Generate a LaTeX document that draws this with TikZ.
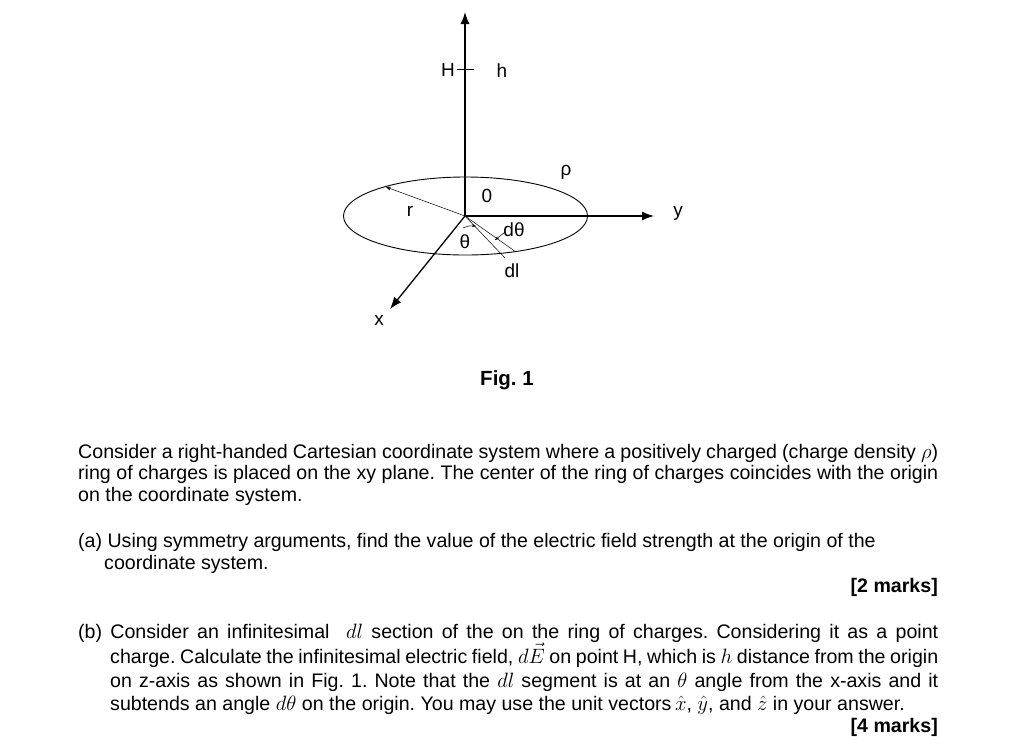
\documentclass[tikz,border=0pt]{standalone}
\usepackage{fontspec}
\setmainfont{Liberation Sans}
\usetikzlibrary{arrows.meta}
\newcommand{\jline}[1]{\makebox[860pt][s]{#1}}
\frenchspacing
\begin{document}
\begin{tikzpicture}[x=1pt,y=-1pt,
  lab/.style={inner sep=0pt,font=\fontsize{19}{21}\selectfont},
  txt/.style={inner sep=0pt,anchor=base west,font=\fontsize{19.6}{22}\selectfont},
  ax/.style={line width=1.3pt,-{Latex[length=12pt,width=9pt]}},
  thin/.style={line width=0.5pt}]
\useasboundingbox (0,0) rectangle (1024,753);
\coordinate (O) at (465,216);
\coordinate (Z) at (465,12);
\coordinate (Y) at (654,216);
\coordinate (X) at (390,309);
\draw[ax] (O) -- (Z);
\draw[ax] (O) -- (Y);
\draw[ax] (O) -- (X);
\draw[line width=0.9pt] (465.5,216) ellipse (122 and 39);
\coordinate (Ha) at (457,69); \coordinate (Hb) at (474,69);
\draw[thin] (Ha) -- (Hb);
\coordinate (R) at (386,187);
\draw[thin,-{Stealth[length=5pt,width=4pt]}] (O) -- (R);
\coordinate (L1) at (505,258); \coordinate (L2) at (516,252);
\draw[thin] (O) -- (L1); \draw[thin] (O) -- (L2);
\coordinate (dta) at (505,232); \coordinate (dtb) at (495,240);
\draw[thin,-{Stealth[length=4pt,width=3pt]}] (dta) -- (dtb);
\coordinate (tha) at (463,228); \coordinate (thb) at (476,226);
\draw[thin,-{Stealth[length=4pt,width=3pt]}] (tha) to[bend left=15] (thb);
\node[lab] (nH) at (448,70) {H};
\node[lab] (nh) at (502,71) {h};
\node[lab] (nrho) at (566,172) {ρ};
\node[lab] (n0) at (487,196) {0};
\node[lab] (nr) at (410,211) {r};
\node[lab] (ny) at (678,213) {y};
\node[lab] (ndt) at (514,230) {dθ};
\node[lab] (nth) at (465,242) {θ};
\node[lab] (ndl) at (512,271) {dl};
\node[lab] (nx) at (379,320) {x};
\node[lab,font=\bfseries\fontsize{20.5}{23}\selectfont] (fig) at (507,380) {Fig. 1};
\node[txt] (t1) at (78,458) {\jline{Consider a right-handed Cartesian coordinate system where a positively charged (charge density $\rho$)}};
\node[txt] (t2) at (78,479) {\jline{ring of charges is placed on the xy plane. The center of the ring of charges coincides with the origin}};
\node[txt] (t3) at (78,501) {on the coordinate system.};
\node[txt] (t4) at (78,547) {(a) Using symmetry arguments, find the value of the electric field strength at the origin of the};
\node[txt] (t5) at (104,569) {coordinate system.};
\node[txt,anchor=base east,font=\bfseries\fontsize{19.6}{22}\selectfont] (m1) at (938,592) {[2 marks]};
\node[txt] (t7) at (78,638) {\jline{(b) Consider an infinitesimal \ $dl$ section of the on the ring of charges. Considering it as a point}};
\node[txt] (t8) at (110,663) {\makebox[828pt][s]{charge. Calculate the infinitesimal electric field, $d\vec{E}$ on point H, which is $h$ distance from the origin}};
\node[txt] (t9) at (110,687) {\makebox[828pt][s]{on z-axis as shown in Fig. 1. Note that the $dl$ segment is at an $\theta$ angle from the x-axis and it}};
\node[txt] (t10) at (110,710) {subtends an angle $d\theta$ on the origin. You may use the unit vectors$\,\hat{x}$, $\hat{y}$, and $\hat{z}$ in your answer.};
\node[txt,anchor=base east,font=\bfseries\fontsize{19.6}{22}\selectfont] (m2) at (938,732) {[4 marks]};
\end{tikzpicture}
\end{document}
